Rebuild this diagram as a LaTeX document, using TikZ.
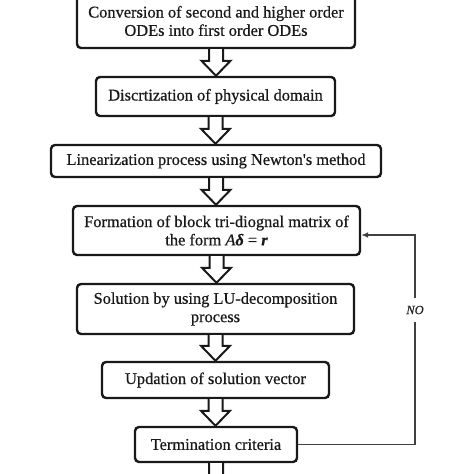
\documentclass[tikz,border=0pt]{standalone}
\usepackage{fontspec}
\setmainfont{Liberation Serif}[FakeBold=0.6]
\usetikzlibrary{calc,arrows.meta}
\tikzset{
  box/.style={draw=black!90, line width=2.4pt, rounded corners=4pt, align=center,
    inner sep=0pt, text=black!90, font=\fontsize{16.4}{18.3}\selectfont},
  barrow/.style={draw=black!90, line width=2pt, fill=white, line join=miter},
  loopline/.style={draw=black!75, line width=1.4pt},
  nolabel/.style={fill=white, inner xsep=2pt, inner ysep=8pt, font=\fontsize{12.5}{13}\selectfont\itshape, text=black!85}
}
\newcommand\blockarrow[2]{%
  \draw[barrow] let \p1=(#1.south), \p2=(#2.north) in
    (\x1-7pt,\y1) -- (\x1-7pt,\y2+15pt) -- (\x1-14.5pt,\y2+15pt) -- (\x1,\y2)
    -- (\x1+14.5pt,\y2+15pt) -- (\x1+7pt,\y2+15pt) -- (\x1+7pt,\y1);}
\begin{document}
\begin{tikzpicture}[x=1pt,y=-1pt]
\useasboundingbox (0,0) rectangle (474,474);
\clip (0,0) rectangle (474,474);
\fill[white] (0,0) rectangle (474,474);
\node[box, minimum width=278pt, minimum height=54pt] (n1) at (216,21) {Conversion of second and higher order\\ODEs into first order ODEs};
\node[box, minimum width=239pt, minimum height=39pt] (n2) at (215.5,96.5) {Discrtization of physical domain};
\node[box, minimum width=330pt, minimum height=32pt] (n3) at (216,161) {Linearization process using Newton\textquotesingle s method};
\node[box, minimum width=287pt, minimum height=49pt] (n4) at (216.5,230.5) {Formation of block tri-diognal matrix of\\the form {\itshape A}{\bfseries\itshape δ} = {\bfseries\itshape r}};
\node[box, minimum width=277pt, minimum height=50pt] (n5) at (215.5,309) {Solution by using LU-decomposition\\process};
\node[box, minimum width=227pt, minimum height=36pt] (n6) at (215.5,380) {Updation of solution vector};
\node[box, minimum width=162pt, minimum height=35pt] (n7) at (216,444.5) {Termination criteria};
\coordinate (bend) at (216,500);
\coordinate (c2) at (415,235);
\blockarrow{n1}{n2}
\blockarrow{n2}{n3}
\blockarrow{n3}{n4}
\blockarrow{n4}{n5}
\blockarrow{n5}{n6}
\blockarrow{n6}{n7}
\blockarrow{n7}{bend}
\draw[loopline, -{Latex[length=7pt,width=6pt]}] (n7.east) -| (c2) -- (n4.east |- c2);
\node[nolabel] (no) at (415,310) {NO};
\end{tikzpicture}
\end{document}
